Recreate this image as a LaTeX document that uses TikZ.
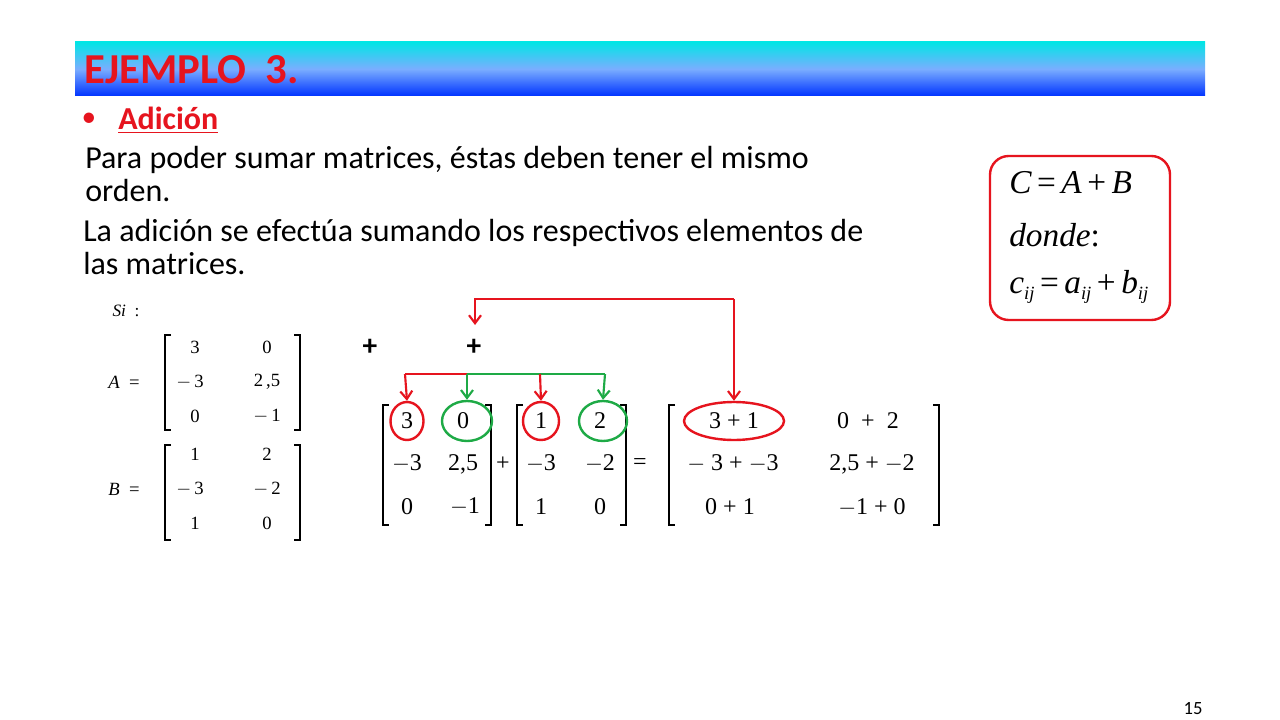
\documentclass[tikz,border=0pt]{standalone}
\usepackage{fontspec}
\setmainfont{Carlito}
\newfontfamily\tms{Liberation Serif}
\usetikzlibrary{arrows.meta,shapes.geometric}
\definecolor{rd}{RGB}{230,20,30}
\definecolor{gn}{RGB}{30,170,70}
\tikzset{
 body/.style={anchor=west,font=\fontsize{24}{28}\selectfont,inner sep=0pt},
 mt/.style={font=\tms\fontsize{18}{20}\selectfont,inner sep=0pt},
 ms/.style={font=\tms\fontsize{14}{16}\selectfont,inner sep=0pt},
 bx/.style={anchor=west,font=\tms\itshape\fontsize{25}{28}\selectfont,inner sep=0pt},
 brk/.style={line width=0.8pt},
 rarr/.style={rd,line width=1.6pt,-{Straight Barb[length=6pt,width=9pt]}},
 garr/.style={gn,line width=1.6pt,-{Straight Barb[length=6pt,width=9pt]}},
}
\newcommand\sbx[1]{\raisebox{-5pt}{\fontsize{14}{15}\selectfont #1}}
\begin{document}
\begin{tikzpicture}[x=0.75pt,y=-0.75pt]
\useasboundingbox (0,0) rectangle (1280,720);
\fill[white] (0,0) rectangle (1280,720);
% banner
\shade[top color=cyan!80!teal,bottom color=blue!80!cyan,middle color=blue!40!white!80!cyan] (75,42) rectangle (1205,96);
\node[anchor=west,text=rd,font=\bfseries\fontsize{32}{34}\selectfont,inner sep=0pt] (title) at (84,70) {EJEMPLO\ \ 3.};
\node[text=rd,font=\fontsize{22}{24}\selectfont,inner sep=0pt] (bul) at (89,120) {•};
\node[body,text=rd,font=\bfseries\fontsize{24}{28}\selectfont] (ad) at (118,120) {\underline{Adición}};
\node[body] (t1) at (85,160) {Para poder sumar matrices, éstas deben tener el mismo};
\node[body] (t2) at (85,191) {orden.};
\node[body] (t3) at (83,233) {La adición se efectúa sumando los respectivos elementos de};
\node[body] (t4) at (83,264) {las matrices.};
% box
\draw[rd,line width=1.8pt,rounded corners=14pt] (990,156) rectangle (1170,320);
\node[bx] (b1) at (1009,183) {C\,\upshape=\,\itshape A\,\upshape+\,\itshape B};
\node[bx] (b2) at (1009,235) {donde\upshape:};
\node[bx] (b3) at (1009,287) {c\sbx{ij}\,\upshape=\,\itshape a\sbx{ij}\,\upshape+\,\itshape b\sbx{ij}};
% left matrices
\node[ms,font=\tms\itshape\fontsize{13}{15}\selectfont] (si) at (126,311) {Si\ \ \upshape:};
\node[ms] (Al) at (124,382) {\itshape A\ \ \upshape=};
\node[ms] (Bl) at (124,489) {\itshape B\ \ \upshape=};
\draw[brk] (171,335)--(165,335)--(165,430)--(171,430);
\draw[brk] (294,335)--(300,335)--(300,430)--(294,430);
\draw[brk] (171,445)--(165,445)--(165,540)--(171,540);
\draw[brk] (294,445)--(300,445)--(300,540)--(294,540);
\node[ms] (a11) at (195,347) {3}; \node[ms] (a12) at (267,347) {0};
\node[ms] (a21) at (190,382) {$-$\,3}; \node[ms] (a22) at (267,382) {2\,,5};
\node[ms] (a31) at (195,416) {0}; \node[ms] (a32) at (267,416) {$-$\,1};
\node[ms] (b11) at (195,454) {1}; \node[ms] (b12) at (267,454) {2};
\node[ms] (b21) at (190,489) {$-$\,3}; \node[ms] (b22) at (267,489) {$-$\,2};
\node[ms] (b31) at (195,523) {1}; \node[ms] (b32) at (267,523) {0};
% plus signs
\node[font=\bfseries\fontsize{22}{24}\selectfont,inner sep=0pt] (p1) at (370,347) {+};
\node[font=\bfseries\fontsize{22}{24}\selectfont,inner sep=0pt] (p2) at (474,347) {+};
% middle matrices
\draw[brk] (389,405)--(383,405)--(383,525)--(389,525);
\draw[brk] (485,405)--(491,405)--(491,525)--(485,525);
\draw[brk] (523,405)--(517,405)--(517,525)--(523,525);
\draw[brk] (620,405)--(626,405)--(626,525)--(620,525);
\draw[brk] (675,405)--(669,405)--(669,525)--(675,525);
\draw[brk] (933,405)--(939,405)--(939,525)--(933,525);
\node[mt] (m11) at (407,421) {3}; \node[mt] (m12) at (463,421) {0};
\node[mt] (m21) at (407,464) {$-$3}; \node[mt] (m22) at (463,464) {2,5};
\node[mt] (m31) at (407,507) {0}; \node[mt] (m32) at (465,507) {$-$1};
\node[mt] (pl) at (503,464) {+};
\node[mt] (n11) at (541,421) {1}; \node[mt] (n12) at (600,421) {2};
\node[mt] (n21) at (541,464) {$-$3}; \node[mt] (n22) at (600,464) {$-$2};
\node[mt] (n31) at (541,507) {1}; \node[mt] (n32) at (600,507) {0};
\node[mt] (eq) at (640,464) {=};
\node[mt] (r11) at (734,421) {3 + 1}; \node[mt] (r12) at (868,421) {0 \ + \ 2};
\node[mt] (r21) at (733,464) {$-$ 3 + $-$3}; \node[mt] (r22) at (872,464) {2,5 + $-$2};
\node[mt] (r31) at (730,507) {0 + 1}; \node[mt] (r32) at (872,507) {$-$1 + 0};
% circles
\node[draw=rd,line width=1.8pt,ellipse,inner sep=0pt,minimum width=24.75pt,minimum height=28.5pt] (c1) at (407,421) {};
\node[draw=gn,line width=1.8pt,ellipse,inner sep=0pt,minimum width=37.5pt,minimum height=30pt] (c2) at (467,421) {};
\node[draw=rd,line width=1.8pt,ellipse,inner sep=0pt,minimum width=27pt,minimum height=28.5pt] (c3) at (541,421) {};
\node[draw=gn,line width=1.8pt,ellipse,inner sep=0pt,minimum width=36pt,minimum height=30pt] (c4) at (603,421) {};
\node[draw=rd,line width=1.8pt,ellipse,inner sep=0pt,minimum width=75pt,minimum height=28.5pt] (c5) at (734,421) {};
% connectors
\draw[rd,line width=1.6pt] (405,374)--(540,374);
\draw[gn,line width=1.6pt] (467,374)--(605,374);
\draw[rarr] (405,374)--(c1.north);
\draw[rarr] (540,374)--(c3.north);
\draw[garr] (467,374)--(c2.north);
\draw[garr] (605,374)--(c4.north);
\draw[rarr] (734,299)--(c5.north);
\draw[rarr] (734,299)--(475,299)--(475,325);
\node[font=\fontsize{14}{16}\selectfont,inner sep=0pt] (pg) at (1193,709) {15};
\end{tikzpicture}
\end{document}
